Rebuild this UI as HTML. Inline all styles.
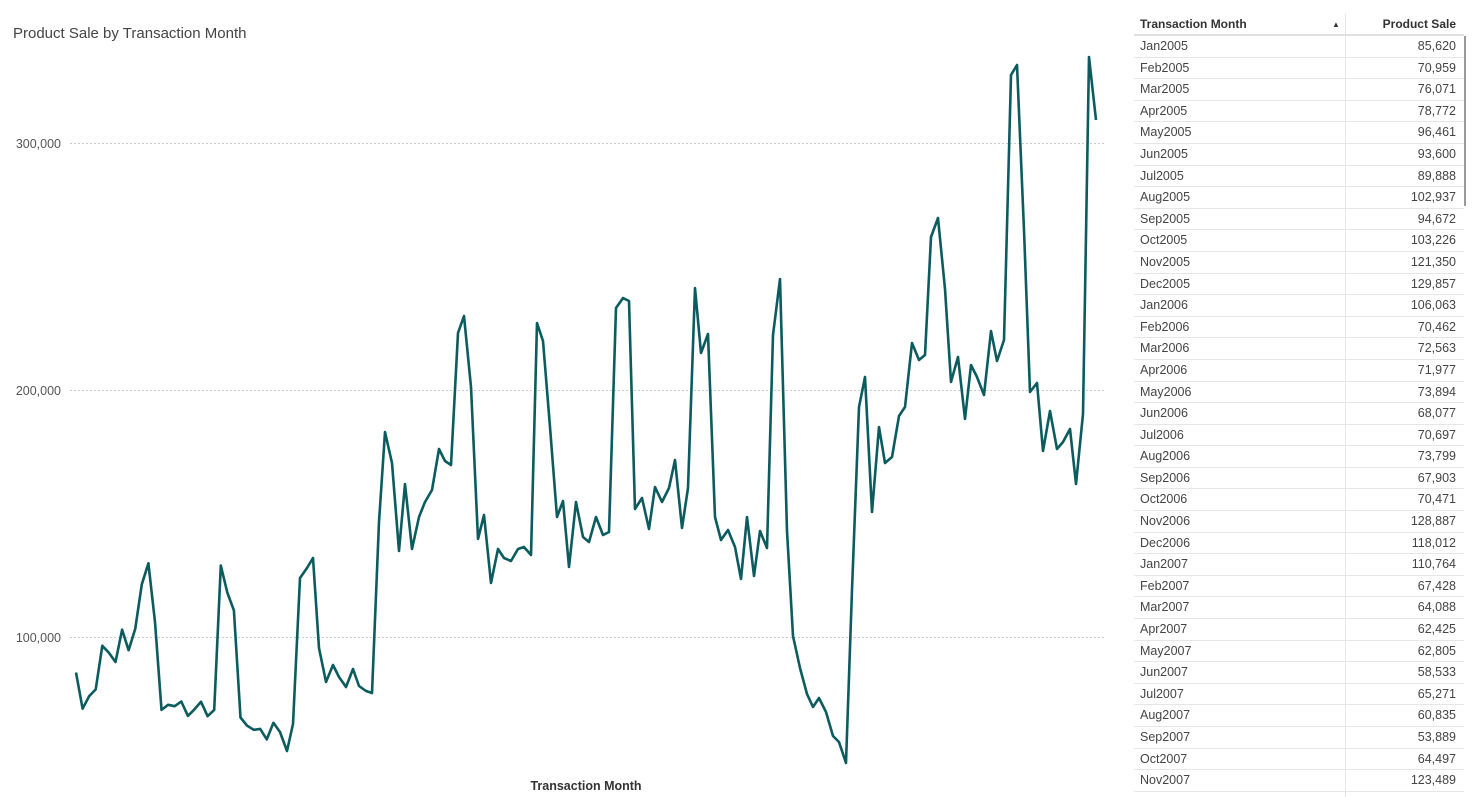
<!DOCTYPE html>
<html><head><meta charset="utf-8"><style>
body{margin:0;background:#fff;font-family:"Liberation Sans",sans-serif;}
.t{position:absolute;left:1134px;top:14px;width:330px;}
.r{height:21.6px;border-bottom:1px solid #e6e6e6;box-sizing:border-box;position:relative;font-size:12.5px;color:#444;line-height:21px;}
.r span{position:absolute}
.r .a{left:6px}.r .b{right:8px}
</style></head><body>
<svg width="1472" height="797" style="position:absolute;left:0;top:0">
<text x="13" y="38" font-size="15" fill="#444" font-family="Liberation Sans">Product Sale by Transaction Month</text>
<g stroke="#ccc" stroke-dasharray="2,2" stroke-width="1">
<line x1="70" x2="1105" y1="143.5" y2="143.5"/><line x1="70" x2="1105" y1="390.5" y2="390.5"/><line x1="70" x2="1105" y1="637.5" y2="637.5"/></g>
<g font-size="12.5" fill="#555" text-anchor="end" font-family="Liberation Sans">
<text x="61" y="148">300,000</text><text x="61" y="395">200,000</text><text x="61" y="642">100,000</text></g>
<text x="586" y="790" font-size="12.5" font-weight="bold" fill="#333" text-anchor="middle" font-family="Liberation Sans">Transaction Month</text>
<polyline fill="none" stroke="#0b5b5f" stroke-width="2.6" stroke-linejoin="round" points="76,672.5 82.6,708.7 89.2,696.1 95.7,689.4 102.3,645.7 108.9,652.8 115.5,662 122.1,629.7 128.6,650.2 135.2,629 141.8,584.3 148.4,563.3 155,622 161.5,709.9 168.1,704.8 174.7,706.2 181.3,701.5 187.9,715.9 194.4,709.4 201,701.7 207.6,716.2 214.2,709.9 220.8,565.6 227.3,592.5 233.9,610.4 240.5,717.5 247.1,725.7 253.7,729.8 260.2,728.9 266.8,739.4 273.4,722.8 280,732 287,751 293,724 300,578 307,568 313,558 319,648 326,682 333,665 339,677 346,687 353,669 359,686 366,691 372,693 379,522 385,432 392,463 399,551 405,484 412,549 419,517 425,502 432,490 439,449 445,461 451,465 458,333 464,316 471,387 478,539 484,515 491,583 498,549 504,558 511,561 518,549 524,547 531,555 537,323 543,341 550,427 557,517 563,501 569,567 576,502 583,537 589,542 596,517 603,535 609,532 616,308 623,298 629,301 635,509 642,498 649,529 655,487 662,502 669,488 675,460 682,528 688,488 695,288 701,353 708,334 715,517 721,540 728,530 735,547 741,579 747,517 754,576 760,531 767,548 773,335 780,279 787,531 793,636 800,668 807,694 813,707 819,698 826,712 833,736 839,742 846,763 852,590 859,407 865,377 872,512 879,427 885,463 892,457 899,416 905,407 912,343 919,360 925,355 931,237 938,218 945,289 951,382 958,357 965,419 971,365 977,377 984,395 991,331 997,361 1004,340 1011,75 1017,65 1024,230 1030,392 1037,383 1043,451 1050,411 1057,449 1063,442 1070,429 1076,484 1083,414 1089,57 1096,120"/>
</svg>
<div class="t">
<div class="r" style="font-weight:bold;color:#333;font-size:12px;border-bottom:2px solid #e0e0e0;height:22px"><span class="a">Transaction Month</span><span style="left:198px;font-size:8px">▲</span><span class="b">Product Sale</span></div>
<div class="r"><span class="a">Jan2005</span><span class="b">85,620</span></div>
<div class="r"><span class="a">Feb2005</span><span class="b">70,959</span></div>
<div class="r"><span class="a">Mar2005</span><span class="b">76,071</span></div>
<div class="r"><span class="a">Apr2005</span><span class="b">78,772</span></div>
<div class="r"><span class="a">May2005</span><span class="b">96,461</span></div>
<div class="r"><span class="a">Jun2005</span><span class="b">93,600</span></div>
<div class="r"><span class="a">Jul2005</span><span class="b">89,888</span></div>
<div class="r"><span class="a">Aug2005</span><span class="b">102,937</span></div>
<div class="r"><span class="a">Sep2005</span><span class="b">94,672</span></div>
<div class="r"><span class="a">Oct2005</span><span class="b">103,226</span></div>
<div class="r"><span class="a">Nov2005</span><span class="b">121,350</span></div>
<div class="r"><span class="a">Dec2005</span><span class="b">129,857</span></div>
<div class="r"><span class="a">Jan2006</span><span class="b">106,063</span></div>
<div class="r"><span class="a">Feb2006</span><span class="b">70,462</span></div>
<div class="r"><span class="a">Mar2006</span><span class="b">72,563</span></div>
<div class="r"><span class="a">Apr2006</span><span class="b">71,977</span></div>
<div class="r"><span class="a">May2006</span><span class="b">73,894</span></div>
<div class="r"><span class="a">Jun2006</span><span class="b">68,077</span></div>
<div class="r"><span class="a">Jul2006</span><span class="b">70,697</span></div>
<div class="r"><span class="a">Aug2006</span><span class="b">73,799</span></div>
<div class="r"><span class="a">Sep2006</span><span class="b">67,903</span></div>
<div class="r"><span class="a">Oct2006</span><span class="b">70,471</span></div>
<div class="r"><span class="a">Nov2006</span><span class="b">128,887</span></div>
<div class="r"><span class="a">Dec2006</span><span class="b">118,012</span></div>
<div class="r"><span class="a">Jan2007</span><span class="b">110,764</span></div>
<div class="r"><span class="a">Feb2007</span><span class="b">67,428</span></div>
<div class="r"><span class="a">Mar2007</span><span class="b">64,088</span></div>
<div class="r"><span class="a">Apr2007</span><span class="b">62,425</span></div>
<div class="r"><span class="a">May2007</span><span class="b">62,805</span></div>
<div class="r"><span class="a">Jun2007</span><span class="b">58,533</span></div>
<div class="r"><span class="a">Jul2007</span><span class="b">65,271</span></div>
<div class="r"><span class="a">Aug2007</span><span class="b">60,835</span></div>
<div class="r"><span class="a">Sep2007</span><span class="b">53,889</span></div>
<div class="r"><span class="a">Oct2007</span><span class="b">64,497</span></div>
<div class="r"><span class="a">Nov2007</span><span class="b">123,489</span></div>
</div>
<div style="position:absolute;left:1345px;top:14px;width:1px;height:783px;background:#e6e6e6"></div>
<div style="position:absolute;left:1464px;top:36px;width:2px;height:170px;background:#999"></div>
</body></html>
